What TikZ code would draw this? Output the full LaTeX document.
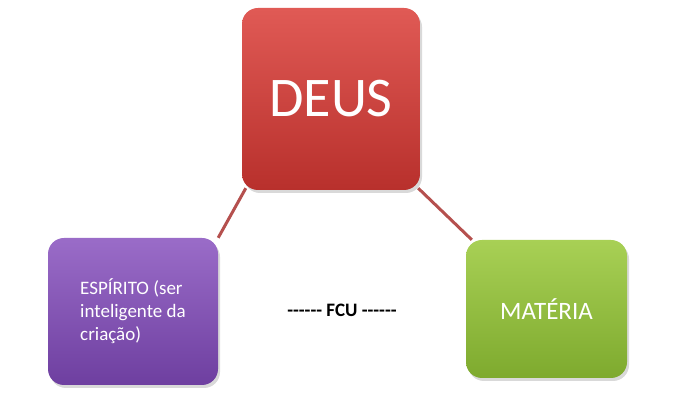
\documentclass[tikz,border=0pt]{standalone}
\usepackage{fontspec}
\setmainfont{Carlito}
\usetikzlibrary{shadows}
\definecolor{redA}{HTML}{E05A55}\definecolor{redB}{HTML}{B8302C}
\definecolor{purA}{HTML}{9A6CC8}\definecolor{purB}{HTML}{6E3FA0}
\definecolor{grnA}{HTML}{A8D055}\definecolor{grnB}{HTML}{7EAA2E}
\definecolor{conn}{HTML}{B5504E}
\tikzset{box/.style={rounded corners=16pt,inner sep=0pt,text=white,align=center,
  drop shadow={shadow xshift=2pt,shadow yshift=-3pt,opacity=0.3}}}
\begin{document}
\begin{tikzpicture}[x=1pt,y=1pt]
\useasboundingbox (0,0) rectangle (673,414);
\node[box,top color=redA,bottom color=redB,minimum width=178pt,minimum height=182pt,font=\fontsize{56}{60}\selectfont] (deus) at (331,315) {DEUS};
\node[box,top color=purA,bottom color=purB,minimum width=170pt,minimum height=147pt,font=\fontsize{19}{23}\selectfont,align=left] (esp) at (133,102.5) {ESPÍRITO (ser\\inteligente da\\criação)};
\node[box,top color=grnA,bottom color=grnB,minimum width=161pt,minimum height=138pt,font=\fontsize{25}{28}\selectfont] (mat) at (546.5,105) {MATÉRIA};
\node[font=\bfseries\fontsize{19}{22}\selectfont] (fcu) at (342,104) {-{}-{}-{}-{}-{}- FCU -{}-{}-{}-{}-{}-};
\draw[conn,line width=3pt] (deus.south west)++(4,2) -- (esp.north east);
\draw[conn,line width=3pt] (deus.south east)++(-2,2) -- ([xshift=6pt]mat.north west);
\end{tikzpicture}
\end{document}
